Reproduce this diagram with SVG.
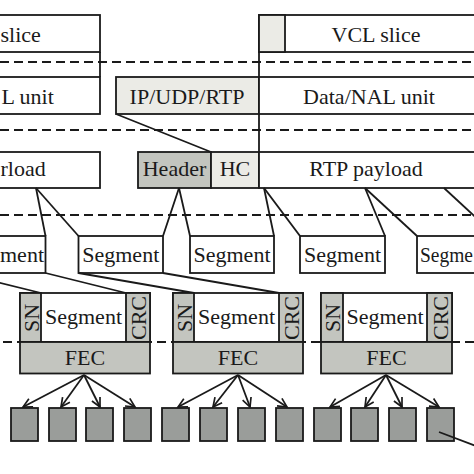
<svg xmlns="http://www.w3.org/2000/svg" width="474" height="474" viewBox="0 0 474 474">
<style>
.b{stroke:#1a1a1a;stroke-width:1.8}
.w{fill:#ffffff}.l{fill:#ebebe6}.m{fill:#c3c5bf}.d{fill:#9a9d9a}
.t{font-family:"Liberation Serif","Times New Roman",serif;font-size:22px;fill:#1a1a1a}
.c{text-anchor:middle}.e{text-anchor:end}
.ln{stroke:#1a1a1a;stroke-width:1.8;fill:none}
.dash{stroke:#1a1a1a;stroke-width:1.8;stroke-dasharray:9 5;fill:none}
</style>
<defs>
<marker id="ah" markerUnits="userSpaceOnUse" markerWidth="12" markerHeight="12" refX="10" refY="6" orient="auto">
<path d="M1,1.5 L10,6 L1,10.5" fill="none" stroke="#1a1a1a" stroke-width="1.7"/>
</marker>
</defs>
<rect x="0" y="0" width="474" height="474" fill="#ffffff"/>

<g id="dashed-lines">
<line class="dash" x1="0" y1="62" x2="474" y2="62"/>
<line class="dash" x1="0" y1="130" x2="474" y2="130"/>
<line class="dash" x1="0" y1="215" x2="474" y2="215"/>
</g>

<g id="vcl-slice-left">
<rect class="b w" x="-10" y="15" width="110" height="37"/>
<text class="t" x="0.5" y="42">slice</text>
</g>
<g id="nal-unit-left">
<line class="ln" x1="100" y1="52" x2="100" y2="77"/>
<rect class="b w" x="-10" y="77" width="110" height="37"/>
<text class="t" x="1.5" y="104">L unit</text>
</g>
<g id="rtp-payload-left">
<rect class="b w" x="-10" y="152" width="110" height="36"/>
<text class="t" x="0.5" y="176">rload</text>
</g>

<g id="vcl-slice-right">
<rect class="b w" x="259" y="15" width="230" height="37"/>
<rect class="b l" x="259" y="15" width="26" height="37"/>
<text class="t c" x="376" y="42">VCL slice</text>
</g>
<g id="ip-udp-rtp">
<line class="ln" x1="259" y1="52" x2="259" y2="77"/>
<rect class="b l" x="116" y="77" width="143" height="37"/>
<text class="t c" x="187" y="104">IP/UDP/RTP</text>
</g>
<g id="data-nal-unit">
<rect class="b w" x="259" y="77" width="230" height="37"/>
<text class="t c" x="369" y="104">Data/NAL unit</text>
</g>
<g id="header">
<rect class="b m" x="138" y="152" width="73" height="36"/>
<text class="t c" x="174.5" y="176">Header</text>
</g>
<g id="hc">
<line class="ln" x1="259" y1="114" x2="259" y2="152"/>
<rect class="b l" x="211" y="152" width="48" height="36"/>
<text class="t c" x="235" y="176">HC</text>
</g>
<g id="rtp-payload">
<rect class="b w" x="259" y="152" width="230" height="36"/>
<text class="t c" x="366" y="176">RTP payload</text>
</g>

<g id="segment-a">
<rect class="b w" x="-45" y="236" width="90.5" height="37"/>
<text class="t" x="0" y="262">ment</text>
</g>
<g id="segment-b">
<rect class="b w" x="78.5" y="236" width="84.5" height="37"/>
<text class="t c" x="120.75" y="262">Segment</text>
</g>
<g id="segment-c">
<rect class="b w" x="190" y="236" width="84" height="37"/>
<text class="t c" x="232" y="262">Segment</text>
</g>
<g id="segment-d">
<rect class="b w" x="300" y="236" width="85" height="37"/>
<text class="t c" x="342.5" y="262">Segment</text>
</g>
<g id="segment-e">
<rect class="b w" x="417" y="236" width="80" height="37"/>
<text class="t" x="420" y="262" textLength="53" lengthAdjust="spacingAndGlyphs">Segme</text>
</g>

<g id="connectors">
<line class="ln" x1="116" y1="114" x2="211" y2="152"/>
<line class="ln" x1="36" y1="188" x2="45.5" y2="236"/>
<line class="ln" x1="36" y1="188" x2="78.5" y2="236"/>
<line class="ln" x1="179" y1="188" x2="163" y2="236"/>
<line class="ln" x1="179" y1="188" x2="190" y2="236"/>
<line class="ln" x1="264" y1="188" x2="274" y2="236"/>
<line class="ln" x1="264" y1="188" x2="300" y2="236"/>
<line class="ln" x1="365" y1="188" x2="385" y2="236"/>
<line class="ln" x1="365" y1="188" x2="417" y2="236"/>
<line class="ln" x1="444" y1="188" x2="496" y2="236"/>
<line class="ln" x1="-40" y1="273" x2="41" y2="293"/>
<line class="ln" x1="45.5" y1="273" x2="126" y2="293"/>
<line class="ln" x1="78.5" y1="273" x2="194" y2="293"/>
<line class="ln" x1="163" y1="273" x2="279" y2="293"/>
<line class="ln" x1="84" y1="375" x2="23" y2="407" marker-end="url(#ah)"/>
<line class="ln" x1="84" y1="375" x2="61" y2="407" marker-end="url(#ah)"/>
<line class="ln" x1="84" y1="375" x2="100" y2="407" marker-end="url(#ah)"/>
<line class="ln" x1="84" y1="375" x2="135" y2="407" marker-end="url(#ah)"/>
<line class="ln" x1="238" y1="375" x2="178" y2="407" marker-end="url(#ah)"/>
<line class="ln" x1="238" y1="375" x2="213" y2="407" marker-end="url(#ah)"/>
<line class="ln" x1="238" y1="375" x2="250" y2="407" marker-end="url(#ah)"/>
<line class="ln" x1="238" y1="375" x2="287" y2="407" marker-end="url(#ah)"/>
<line class="ln" x1="386" y1="375" x2="330" y2="407" marker-end="url(#ah)"/>
<line class="ln" x1="386" y1="375" x2="365" y2="407" marker-end="url(#ah)"/>
<line class="ln" x1="386" y1="375" x2="402" y2="407" marker-end="url(#ah)"/>
<line class="ln" x1="386" y1="375" x2="439" y2="407" marker-end="url(#ah)"/>
</g>

<g id="block-1">
<rect class="b w" x="20" y="293" width="130" height="49"/>
<rect class="b m" x="20" y="293" width="21" height="49"/>
<rect class="b m" x="126" y="293" width="24" height="49"/>
<text class="t c" x="83.5" y="324">Segment</text>
<text class="t c" transform="translate(38.5,318) rotate(-90)">SN</text>
<text class="t c" transform="translate(146,318) rotate(-90)">CRC</text>
</g>
<g id="block-2">
<rect class="b w" x="173" y="293" width="130" height="49"/>
<rect class="b m" x="173" y="293" width="21" height="49"/>
<rect class="b m" x="279" y="293" width="24" height="49"/>
<text class="t c" x="236.5" y="324">Segment</text>
<text class="t c" transform="translate(191.5,318) rotate(-90)">SN</text>
<text class="t c" transform="translate(299,318) rotate(-90)">CRC</text>
</g>
<g id="block-3">
<rect class="b w" x="321" y="293" width="131" height="49"/>
<rect class="b m" x="321" y="293" width="22" height="49"/>
<rect class="b m" x="427" y="293" width="25" height="49"/>
<text class="t c" x="385" y="324">Segment</text>
<text class="t c" transform="translate(340,318) rotate(-90)">SN</text>
<text class="t c" transform="translate(447.5,318) rotate(-90)">CRC</text>
</g>
<g id="dashed-line-fec">
<line class="dash" x1="3" y1="342" x2="474" y2="342"/>
</g>
<g id="fec-1">
<rect class="b m" x="20" y="342" width="130" height="31.5"/>
<text class="t c" x="85" y="365">FEC</text>
</g>
<g id="fec-2">
<rect class="b m" x="173" y="342" width="130" height="31.5"/>
<text class="t c" x="238" y="365">FEC</text>
</g>
<g id="fec-3">
<rect class="b m" x="321" y="342" width="131" height="31.5"/>
<text class="t c" x="386.5" y="365">FEC</text>
</g>

<g id="packets">
<rect class="b d" x="11" y="408" width="27" height="33"/>
<rect class="b d" x="49" y="408" width="27" height="33"/>
<rect class="b d" x="86" y="408" width="27" height="33"/>
<rect class="b d" x="124" y="408" width="27" height="33"/>
<rect class="b d" x="162" y="408" width="27" height="33"/>
<rect class="b d" x="200" y="408" width="27" height="33"/>
<rect class="b d" x="238" y="408" width="27" height="33"/>
<rect class="b d" x="276" y="408" width="27" height="33"/>
<rect class="b d" x="314" y="408" width="27" height="33"/>
<rect class="b d" x="351" y="408" width="27" height="33"/>
<rect class="b d" x="389" y="408" width="27" height="33"/>
<rect class="b d" x="427" y="408" width="27" height="33"/>
</g>
<g id="connector-out">
<line class="ln" x1="439" y1="432" x2="500" y2="455"/>
</g>
</svg>
